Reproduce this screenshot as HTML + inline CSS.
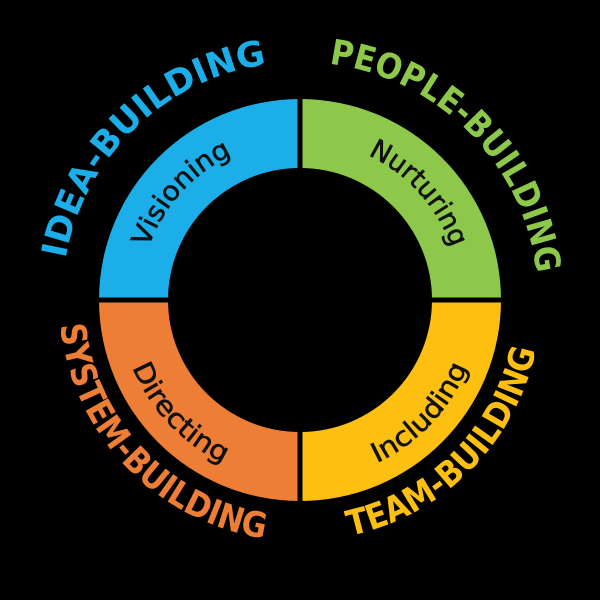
<!DOCTYPE html>
<html><head><style>html,body{margin:0;padding:0;background:#000;}svg{display:block}</style></head>
<body>
<svg width="600" height="600" viewBox="0 0 600 600" xmlns="http://www.w3.org/2000/svg">
<rect width="600" height="600" fill="#000"/>
<defs>
<path id="pIdea" d="M65.6,258.7 A238,238 0 0 1 266.9,64.3"/>
<path id="pPeople" d="M329,63.8 A238,238 0 0 1 536.7,275.1"/>
<path id="pSystem" d="M58.3,325.4 A243,243 0 0 0 266.2,540.6"/>
<path id="pTeam" d="M350.5,537.7 A243,243 0 0 0 537.7,350.5"/>
<path id="iVis" d="M148.4,248 A160,160 0 0 1 232.4,155"/>
<path id="iNur" d="M367.6,155 A160,160 0 0 1 451.6,248"/>
<path id="iDir" d="M129,358 A180,180 0 0 0 232.4,467"/>
<path id="iInc" d="M367.6,467 A180,180 0 0 0 471,358"/>
</defs>
<path d="M99,300 A201,201 0 0 1 300,99 L300,168 A132,132 0 0 0 168,300 Z" fill="#1CAEE8"/>
<path d="M300,99 A201,201 0 0 1 501,300 L432,300 A132,132 0 0 0 300,168 Z" fill="#8DC84B"/>
<path d="M501,300 A201,201 0 0 1 300,501 L300,432 A132,132 0 0 0 432,300 Z" fill="#FDBF10"/>
<path d="M300,501 A201,201 0 0 1 99,300 L168,300 A132,132 0 0 0 300,432 Z" fill="#EE7E35"/>
<line x1="300" y1="90" x2="300" y2="510" stroke="#000" stroke-width="5"/>
<line x1="90" y1="300" x2="510" y2="300" stroke="#000" stroke-width="5"/>
<g font-family="DejaVu Sans, Liberation Sans, sans-serif" font-weight="bold" font-size="35">
<text fill="#1CAEE8"><textPath href="#pIdea" textLength="299" lengthAdjust="spacingAndGlyphs">IDEA-BUILDING</textPath></text>
<text fill="#8DC84B"><textPath href="#pPeople" textLength="318" lengthAdjust="spacingAndGlyphs">PEOPLE-BUILDING</textPath></text>
<text fill="#EE7E35" dy="-2"><textPath href="#pSystem" textLength="320" lengthAdjust="spacingAndGlyphs">SYSTEM-BUILDING</textPath></text>
<text fill="#FDBF10" dy="-2"><textPath href="#pTeam" textLength="280" lengthAdjust="spacingAndGlyphs">TEAM-BUILDING</textPath></text>
</g>
<g font-family="DejaVu Sans, Liberation Sans, sans-serif" font-size="27" fill="#111" stroke="#111" stroke-width="0.6">
<text><textPath href="#iVis" startOffset="50%" text-anchor="middle" textLength="128" lengthAdjust="spacingAndGlyphs">Visioning</textPath></text>
<text><textPath href="#iNur" startOffset="50%" text-anchor="middle" textLength="128" lengthAdjust="spacingAndGlyphs">Nurturing</textPath></text>
<text><textPath href="#iDir" startOffset="50%" text-anchor="middle" textLength="135" lengthAdjust="spacingAndGlyphs">Directing</textPath></text>
<text><textPath href="#iInc" startOffset="50%" text-anchor="middle" textLength="135" lengthAdjust="spacingAndGlyphs">Including</textPath></text>
</g>
</svg>
</body></html>
